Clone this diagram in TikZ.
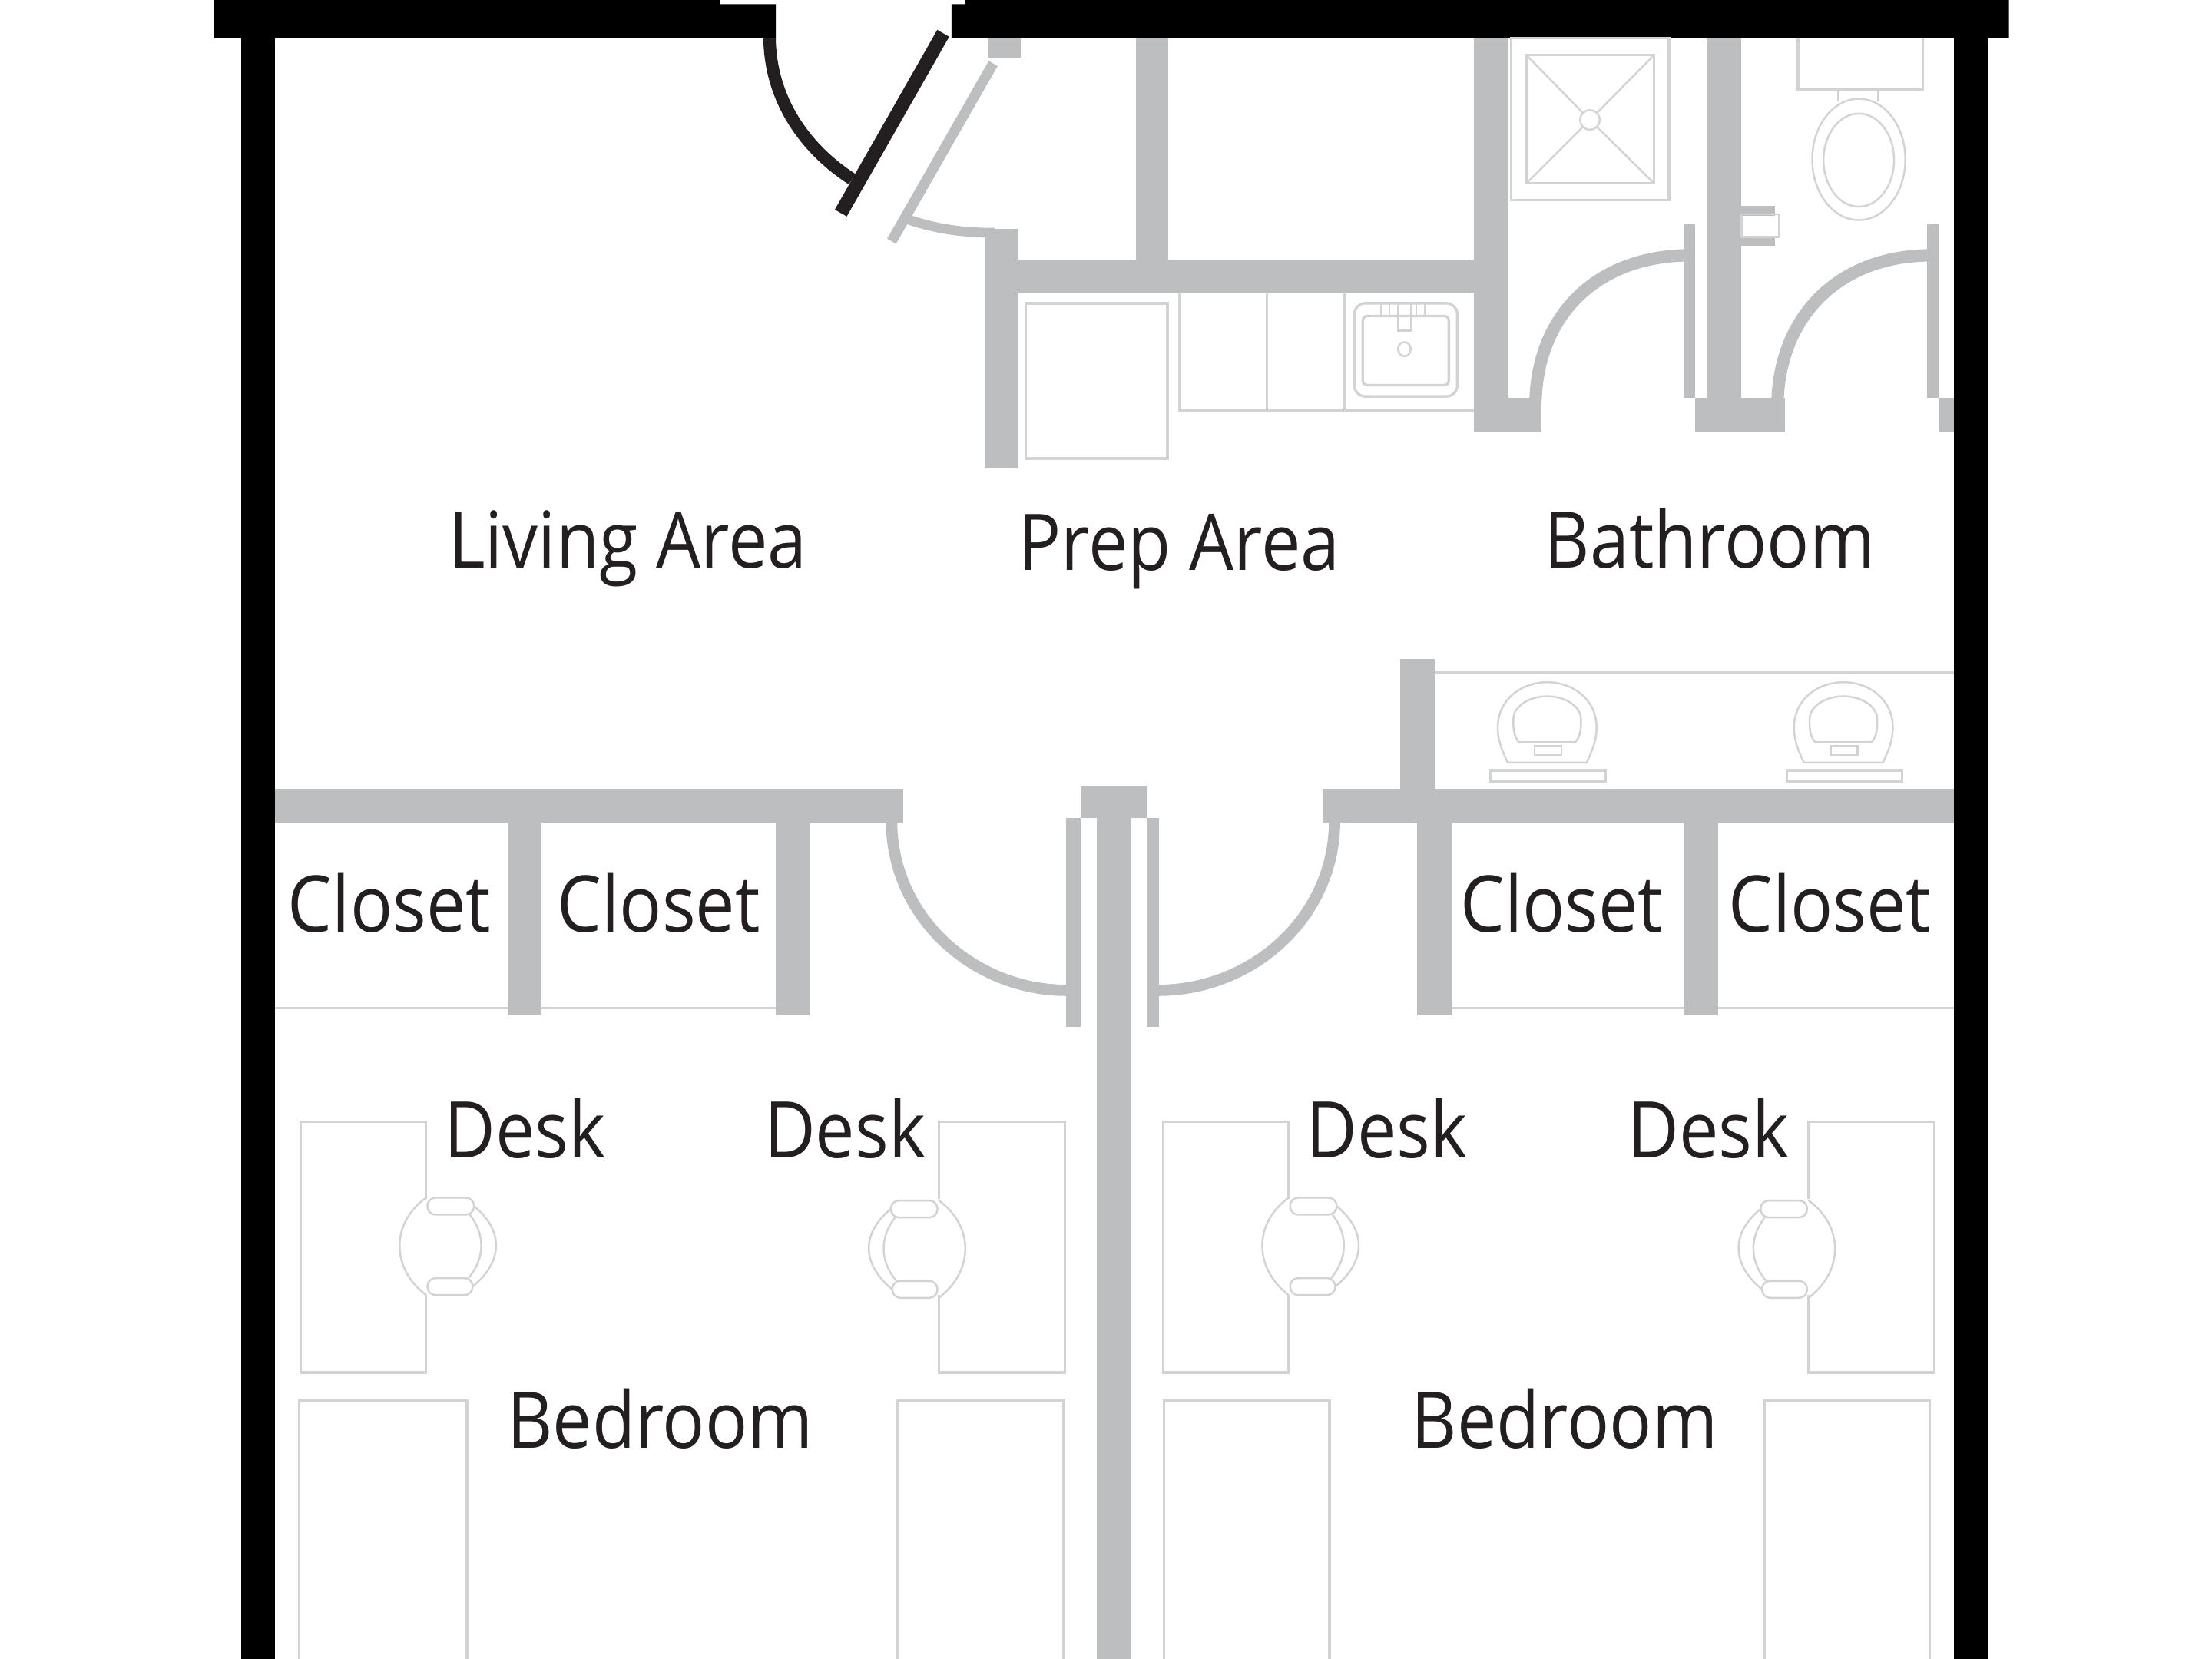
\documentclass[tikz,border=0pt]{standalone}
\usepackage{fontspec}
\setmainfont[FakeStretch=0.9]{Open Sans}
\definecolor{wallgrey}{HTML}{BCBEC0}
\definecolor{thingrey}{HTML}{D1D3D4}
\definecolor{inkblack}{HTML}{231F20}
\tikzset{
  every picture/.style={x=0.018367cm,y=-0.018367cm},
  wall/.style={fill=wallgrey,draw=none},
  outer/.style={fill=black,draw=none},
  fixture/.style={draw=thingrey,line width=0.95pt,fill=none},
  finefix/.style={draw=thingrey,line width=0.7pt,fill=none},
  swing/.style={draw=wallgrey,line width=4.2pt,fill=none},
  darkswing/.style={draw=inkblack,line width=4.6pt,fill=none},
  roomlabel/.style={anchor=base,inner sep=0pt,outer sep=0pt,text=inkblack,font=\fontsize{29}{31}\selectfont},
  pics/chair/.style={code={
    \draw[finefix] (0,-33) .. controls (-25,-15) and (-25,17) .. (0,36);
    \draw[finefix,rounded corners=3pt] (1,-33) rectangle (34,-21);
    \draw[finefix,rounded corners=3pt] (1,24) rectangle (33,36);
    \draw[finefix] (31,-21) .. controls (42,-7) and (42,10) .. (30,24);
    \draw[finefix] (34,-27) .. controls (55,-10) and (55,12) .. (33,30);
  }},
  pics/washbasin/.style={code={
    \draw[finefix] (-28,57) .. controls (-32,48) and (-35,42) .. (-35,32) .. controls (-35,12) and (-18,0) .. (0,0) .. controls (18,0) and (35,12) .. (35,32) .. controls (35,42) and (32,48) .. (28,57) -- cycle;
    \draw[finefix] (-20,42.5) .. controls (-24,38) and (-24,32) .. (-24,26) .. controls (-24,18) and (-14,10) .. (0,10) .. controls (14,10) and (24,18) .. (24,26) .. controls (24,32) and (24,38) .. (20,42.5) -- cycle;
    \draw[finefix] (-9,45) rectangle (10,51.5);
    \draw[fixture] (-40,62.5) rectangle (41.5,70.5);
  }}
}
\begin{document}
\begin{tikzpicture}
\useasboundingbox (0,0) rectangle (1568,1176);
% outer walls
\fill[outer] (152,0) -- (510,0) -- (510,3) -- (550,3) -- (550,27) -- (152,27) -- cycle;
\fill[outer] (674.5,27) -- (674.5,3) -- (684,3) -- (684,0) -- (1424,0) -- (1424,27) -- cycle;
\fill[outer] (171,27) rectangle (195,1176);
\fill[outer] (1385,27) rectangle (1409,1176);
% main door
\draw[darkswing] (545.5,27) .. controls (546,70) and (570,105) .. (604,127);
\draw[darkswing,line width=5.1pt] (668.6,23.6) -- (596,151);
% inner door
\fill[wall] (700,27) rectangle (723.5,41);
\draw[swing,line width=3.8pt] (704,45) -- (632,171);
\draw[swing,line width=3.6pt] (642,155) .. controls (665,163) and (685,165) .. (705,165);
% kitchen walls
\fill[wall] (698,162) rectangle (722,331.5);
\fill[wall] (698,184) rectangle (1069,208);
\fill[wall] (805,27) rectangle (828,184);
\fill[wall] (1044.5,27) rectangle (1069,306);
\fill[wall] (1044.5,282) rectangle (1092.5,306);
\fill[wall] (1210,27) rectangle (1234.5,306);
\fill[wall] (1201.5,282) rectangle (1265,306);
\fill[wall] (1374.7,282) rectangle (1385,306);
% bathroom doors
\fill[wall] (1194,159) rectangle (1201.5,282);
\fill[wall] (1366,159) rectangle (1374,282);
\draw[swing,line width=4.6pt] (1088.5,284) .. controls (1090,225) and (1130,182) .. (1196,181);
\draw[swing,line width=4.6pt] (1260,284) .. controls (1262,225) and (1302,182) .. (1367,181);
% shower
\draw[fixture] (1071,27) rectangle (1183,142);
\draw[fixture] (1082,39) rectangle (1172.5,130);
\draw[finefix] (1127,85) circle (7);
\draw[finefix] (1082,39) -- (1122,80) (1172.5,39) -- (1132,80) (1082,130) -- (1122,90) (1172.5,130) -- (1132,90);
% toilet
\draw[fixture] (1274.5,27) -- (1274.5,63.5) -- (1363,63.5) -- (1363,27);
\draw[finefix] (1303,63.5) -- (1303,72) (1331.5,63.5) -- (1331.5,72);
\draw[finefix] (1317.6,113) ellipse (33 and 43);
\draw[finefix] (1317.6,113.5) ellipse (25 and 33);
% paper holder
\fill[wall] (1234.5,146) rectangle (1258,153);
\fill[wall] (1234.5,167) rectangle (1258,174);
\draw[finefix] (1234.5,152) rectangle (1261,168);
% fridge
\draw[fixture] (727,215) rectangle (827.5,325);
% counter
\draw[fixture] (836,208) -- (836,291) -- (1044.5,291);
\draw[fixture] (898,208) -- (898,291) (953,208) -- (953,291);
% kitchen sink
\draw[fixture,rounded corners=4pt] (960,215) rectangle (1033,281);
\draw[fixture,rounded corners=1.5pt] (966,224) rectangle (1027,273);
\draw[finefix] (991,215) rectangle (1000,234.5);
\draw[finefix] (979,215) rectangle (985,224) (1004,215) rectangle (1010,224);
\draw[finefix] (995.5,247.5) ellipse (4.5 and 5);
% lower cross wall
\fill[wall] (195,559) rectangle (640,583);
\fill[wall] (938,559) rectangle (1385,583);
\fill[wall] (766,557) rectangle (813,580);
\fill[wall] (777.5,580) rectangle (802,1176);
\fill[wall] (755.6,580) rectangle (766,728);
\fill[wall] (813,580) rectangle (821.5,728);
\fill[wall] (360,583) rectangle (384,720);
\fill[wall] (550,583) rectangle (574,720);
\fill[wall] (1004.5,583) rectangle (1029.5,720);
\fill[wall] (1194,583) rectangle (1218,720);
\fill[wall] (992.5,467) rectangle (1017,560);
% bedroom doors
\draw[swing] (632,582) .. controls (632,650) and (690,702) .. (756,702);
\draw[swing] (946,582) .. controls (946,650) and (888,702) .. (821,702);
% closet lines
\draw[fixture] (195,714.5) -- (360,714.5) (384,714.5) -- (550,714.5);
\draw[fixture] (1029.5,714.5) -- (1194,714.5) (1218,714.5) -- (1385,714.5);
% vanity
\draw[fixture,line width=1.4pt] (1017,476.5) -- (1385,476.5);
\pic at (1096.7,483.6) {washbasin};
\pic at (1306.7,483.6) {washbasin};
% desks
\draw[fixture] (302,850) -- (302,795) -- (213,795) -- (213,973) -- (302,973) -- (302,918);
\draw[fixture] (665.5,850) -- (665.5,795) -- (755,795) -- (755,973) -- (665.5,973) -- (665.5,918);
\draw[fixture] (913.5,850) -- (913.5,795) -- (824.5,795) -- (824.5,973) -- (913.5,973) -- (913.5,918);
\draw[fixture] (1282,850) -- (1282,795) -- (1371,795) -- (1371,973) -- (1282,973) -- (1282,918);
% chairs
\pic at (302,882) {chair};
\pic[xscale=-1] at (665.5,884) {chair};
\pic at (913.5,882) {chair};
\pic[xscale=-1] at (1282,884) {chair};
% beds
\draw[fixture] (212,1176) -- (212,993) -- (331,993) -- (331,1176);
\draw[fixture] (636,1176) -- (636,993) -- (754,993) -- (754,1176);
\draw[fixture] (825,1176) -- (825,993) -- (942.5,993) -- (942.5,1176);
\draw[fixture] (1250.5,1176) -- (1250.5,993) -- (1368,993) -- (1368,1176);
% labels
\node[roomlabel] (living) at (445,402.5) {Living Area};
\node[roomlabel] (prep) at (836,404.5) {Prep Area};
\node[roomlabel] (bath) at (1212,402.5) {Bathroom};
\node[roomlabel] (closetA) at (276,660.5) {Closet};
\node[roomlabel] (closetB) at (467,660.5) {Closet};
\node[roomlabel] (closetC) at (1107,660.5) {Closet};
\node[roomlabel] (closetD) at (1297,660.5) {Closet};
\node[roomlabel] (deskA) at (372,820.5) {Desk};
\node[roomlabel] (deskB) at (599,820.5) {Desk};
\node[roomlabel] (deskC) at (983,820.5) {Desk};
\node[roomlabel] (deskD) at (1211,820.5) {Desk};
\node[roomlabel] (bedA) at (468,1026.5) {Bedroom};
\node[roomlabel] (bedB) at (1109,1026.5) {Bedroom};
\end{tikzpicture}
\end{document}
